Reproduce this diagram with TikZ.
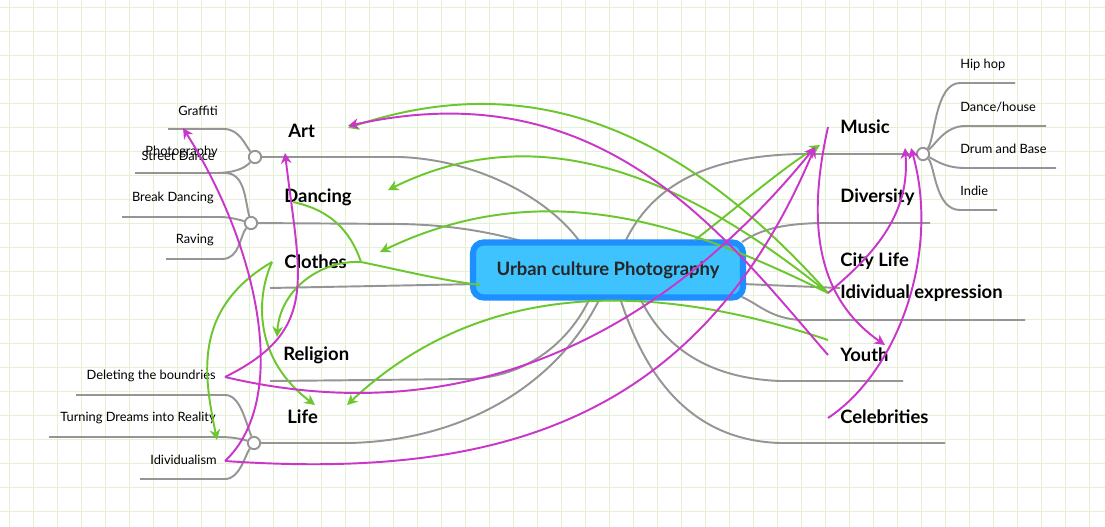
\documentclass[tikz,border=0pt]{standalone}
\usepackage{fontspec}
\setmainfont{Lato}
\usetikzlibrary{arrows.meta}
\definecolor{gridc}{HTML}{E4F1D6}
\definecolor{branch}{HTML}{959595}
\definecolor{lgreen}{HTML}{6CC62E}
\definecolor{lmag}{HTML}{C936C9}
\definecolor{cblue}{HTML}{1E8FFF}
\definecolor{cfill}{HTML}{3EC3FF}
\tikzset{
  topic/.style={font=\fontsize{10.5}{12}\selectfont\bfseries,anchor=west,inner sep=0pt},
  leaf/.style={font=\fontsize{7.3}{8}\selectfont,anchor=east,inner sep=0pt},
  leafr/.style={font=\fontsize{7.3}{8}\selectfont,anchor=west,inner sep=0pt},
  br/.style={draw=branch,line width=1.1pt},
  knob/.style={circle,draw=branch,fill=white,line width=1.1pt,inner sep=0pt,minimum size=7pt},
  garrow/.style={draw=lgreen,line width=1.1pt,-{Stealth[length=6pt,width=6pt]}},
  gline/.style={draw=lgreen,line width=1.1pt},
  marrow/.style={draw=lmag,line width=1.1pt,-{Stealth[length=6pt,width=6pt]}},
  mline/.style={draw=lmag,line width=1.1pt}
}
\begin{document}
\begin{tikzpicture}[x=0.02cm,y=-0.02cm]
\useasboundingbox (0,0) rectangle (1105,527);
\fill[white] (0,0) rectangle (1105,527);
\foreach \gx in {9,33,...,1105} \draw[gridc,line width=0.5pt] (\gx,0)--(\gx,527);
\foreach \gy in {7,31,...,527} \draw[gridc,line width=0.5pt] (0,\gy)--(1105,\gy);

% gray branches, left
\node[knob] (kart) at (255,157) {};
\node[knob] (kdance) at (251,223) {};
\node[knob] (klife) at (254,443) {};
\draw[br] (kart) -- (400,157) .. controls (480,160) and (550,200) .. (580,242);
\draw[br] (kdance) -- (400,224) .. controls (460,225) and (500,235) .. (525,242);
\draw[br] (270,288) -- (480,284);
\draw[br] (270,381) -- (470,379) .. controls (530,376) and (570,340) .. (590,298);
\draw[br] (klife) -- (350,443) .. controls (470,440) and (560,380) .. (600,298);
\draw[br] (kart) .. controls (245,145) and (240,130) .. (225,129) -- (168,129);
\draw[br] (kart) .. controls (245,168) and (235,173) .. (215,173) -- (135,173);
\draw[br] (kdance) .. controls (245,200) and (245,173) .. (225,173) -- (180,173);
\draw[br] (kdance) .. controls (240,220) and (230,217) .. (220,217) -- (122,217);
\draw[br] (kdance) .. controls (240,235) and (240,259) .. (222,259) -- (166,259);
\draw[br] (klife) .. controls (245,420) and (240,395) .. (225,395) -- (76,395);
\draw[br] (klife) .. controls (245,440) and (235,437) .. (220,437) -- (49,437);
\draw[br] (klife) .. controls (245,455) and (240,479) .. (225,479) -- (140,479);

% gray branches, right
\node[knob] (kmusic) at (923,154) {};
\draw[br] (kmusic) -- (800,154) .. controls (700,156) and (650,190) .. (625,242);
\draw[br] (930,223) -- (820,223) .. controls (780,224) and (760,230) .. (742,242);
\draw[br] (840,288) -- (742,284);
\draw[br] (1025,320) -- (800,320) .. controls (770,318) and (760,305) .. (742,297);
\draw[br] (903,381) -- (780,381) .. controls (700,378) and (660,340) .. (640,298);
\draw[br] (945,443) -- (780,443) .. controls (680,440) and (640,360) .. (620,298);
\draw[br] (kmusic) .. controls (935,140) and (935,83) .. (960,83) -- (1015,83);
\draw[br] (kmusic) .. controls (935,145) and (945,126) .. (965,126) -- (1046,126);
\draw[br] (kmusic) .. controls (935,160) and (945,168) .. (965,168) -- (1056,168);
\draw[br] (kmusic) .. controls (935,165) and (935,210) .. (960,210) -- (997,210);

% central topic
\node[draw=cblue,fill=cfill,line width=3.5pt,rounded corners=6pt,minimum width=5.4cm,minimum height=1.1cm,
  font=\fontsize{10.5}{12}\selectfont\bfseries,text=black!85] (central) at (608,270) {Urban culture Photography};

% topics
\node[topic] (art) at (288,131) {Art};
\node[topic] (dancing) at (284,197) {Dancing};
\node[topic] (clothes) at (284,262) {Clothes};
\node[topic] (religion) at (283,355) {Religion};
\node[topic] (life) at (287,417) {Life};
\node[topic] (music) at (840,127) {Music};
\node[topic] (diversity) at (840,197) {Diversity};
\node[topic] (city) at (840,261) {City Life};
\node[topic] (indiv) at (840,293) {Idividual expression};
\node[topic] (youth) at (840,355) {Youth};
\node[topic] (celeb) at (840,417) {Celebrities};

% leaves
\node[leaf] (graffiti) at (218,111) {Graffiti};
\node[leaf] (photo) at (218,152) {Photography};
\node[leaf] (street) at (215,156) {Street Dance};
\node[leaf] (bdance) at (214,198) {Break Dancing};
\node[leaf] (raving) at (214,240) {Raving};
\node[leaf] (delete) at (216,376) {Deleting the boundries};
\node[leaf] (dreams) at (216,418) {Turning Dreams into Reality};
\node[leaf] (indism) at (217,460) {Idividualism};
\node[leafr] (hiphop) at (960,65) {Hip hop};
\node[leafr] (dhouse) at (960,107) {Dance/house};
\node[leafr] (drum) at (960,149) {Drum and Base};
\node[leafr] (indie) at (960,191) {Indie};

% green relations
\coordinate (gie) at (828,293);
\coordinate (gcl) at (361,262);
\coordinate (gcl2) at (272,262);
\draw[garrow] (gie) .. controls (700,150) and (550,60) .. (348,128);
\draw[garrow] (gie) .. controls (700,190) and (550,110) .. (388,190);
\draw[garrow] (gie) .. controls (700,230) and (550,170) .. (380,252);
\draw[garrow] (695,240) .. controls (740,205) and (780,170) .. (820,145);
\draw[gline] (gcl) .. controls (350,230) and (330,210) .. (293,202);
\draw[gline] (gcl) .. controls (400,270) and (440,280) .. (480,285);
\draw[garrow] (gcl) .. controls (320,260) and (280,290) .. (277,337);
\draw[garrow] (gcl2) .. controls (255,300) and (255,360) .. (315,405);
\draw[garrow] (gcl2) .. controls (190,310) and (205,380) .. (217,440);
\draw[garrow] (828,340) .. controls (650,280) and (480,280) .. (347,405);

% magenta relations
\coordinate (mdel) at (225,377);
\coordinate (mind) at (225,461);
\draw[marrow] (828,355) .. controls (720,230) and (600,70) .. (348,126);
\draw[marrow] (mdel) .. controls (320,330) and (300,280) .. (285,153);
\draw[marrow] (mdel) .. controls (450,430) and (650,350) .. (815,147);
\draw[marrow] (mind) .. controls (290,400) and (260,250) .. (183,128);
\draw[marrow] (mind) .. controls (500,480) and (700,420) .. (815,147);
\draw[marrow] (828,127) .. controls (805,230) and (820,300) .. (885,345);
\draw[marrow] (gie) .. controls (880,250) and (910,210) .. (905,148);
\draw[marrow] (828,418) .. controls (900,370) and (940,250) .. (911,148);
\end{tikzpicture}
\end{document}
